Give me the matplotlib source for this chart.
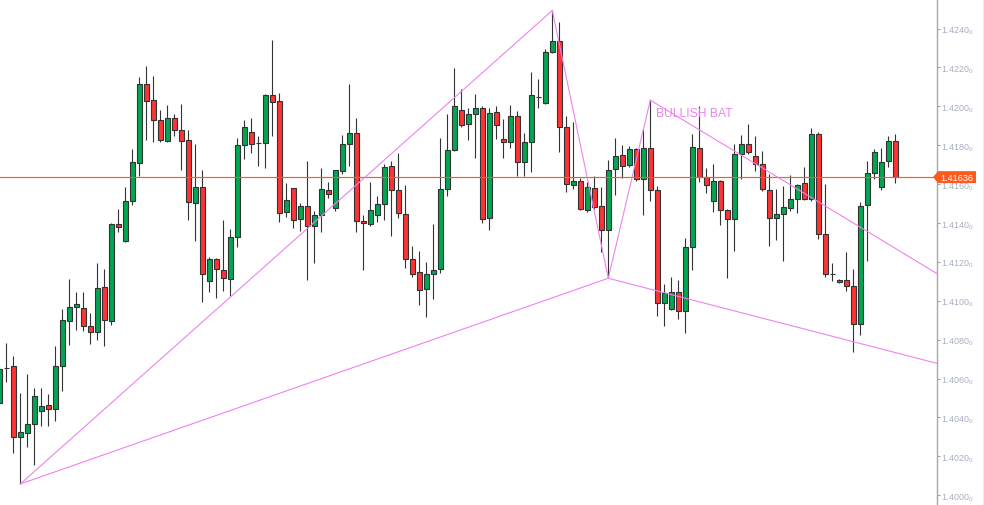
import numpy as np
import matplotlib
matplotlib.use('Agg')
import matplotlib.pyplot as plt
from matplotlib import transforms
from matplotlib.lines import Line2D
from matplotlib.patches import Polygon

plt.rcParams['font.family'] = ['Liberation Sans', 'DejaVu Sans']

# OHLC data, one candle per bar
opens = np.array([
    1.40473, 1.40653, 1.40664, 1.40298, 1.40322, 1.40365, 1.40432, 1.40463, 1.40442, 1.40664,
    1.40895, 1.40967, 1.40962, 1.40869, 1.40838, 1.41070, 1.40895, 1.41396, 1.41307, 1.41512,
    1.41708, 1.42114, 1.42032, 1.41929, 1.41821, 1.41939, 1.41878, 1.41826, 1.41502, 1.41584,
    1.41101, 1.41214, 1.41157, 1.41111, 1.41327, 1.41800, 1.41867, 1.41811, 1.41811, 1.42058,
    1.42027, 1.41456, 1.41579, 1.41420, 1.41487, 1.41384, 1.41440, 1.41569, 1.41476, 1.41667,
    1.41806, 1.41862, 1.41409, 1.41394, 1.41440, 1.41497, 1.41692, 1.41569, 1.41445, 1.41214,
    1.41147, 1.41060, 1.41137, 1.41163, 1.41574, 1.41775, 1.41980, 1.41908, 1.41960, 1.41991,
    1.41425, 1.41970, 1.41831, 1.41816, 1.41950, 1.41713, 1.41816, 1.42047, 1.42016, 1.42279,
    1.42335, 1.41893, 1.41595, 1.41615, 1.41466, 1.41579, 1.41487, 1.41363, 1.41677, 1.41749,
    1.41698, 1.41780, 1.41626, 1.41785, 1.41569, 1.40988, 1.40957, 1.41044, 1.40946, 1.41276,
    1.41785, 1.41636, 1.41512, 1.41615, 1.41466, 1.41420, 1.41754, 1.41806, 1.41744, 1.41703,
    1.41569, 1.41425, 1.41445, 1.41476, 1.41523, 1.41605, 1.41523, 1.41857, 1.41343, 1.41137,
    1.41096, 1.41106, 1.41075, 1.40880, 1.41492, 1.41656, 1.41584, 1.41718, 1.41821])

highs = np.array([
    1.40670, 1.40783, 1.40715, 1.40526, 1.40624, 1.40552, 1.40552, 1.40521, 1.40768, 1.40958,
    1.41113, 1.41044, 1.41044, 1.40938, 1.41193, 1.41164, 1.41401, 1.41473, 1.41587, 1.41781,
    1.42150, 1.42210, 1.42158, 1.41982, 1.42008, 1.41961, 1.42013, 1.41879, 1.41807, 1.41673,
    1.41224, 1.41218, 1.41418, 1.41370, 1.41836, 1.41929, 1.41941, 1.41847, 1.42062, 1.42342,
    1.42068, 1.41606, 1.41582, 1.41502, 1.41720, 1.41461, 1.41682, 1.41610, 1.41673, 1.41852,
    1.42114, 1.41939, 1.41440, 1.41610, 1.41538, 1.41703, 1.41718, 1.41759, 1.41595, 1.41281,
    1.41255, 1.41199, 1.41394, 1.41836, 1.41960, 1.42196, 1.42088, 1.41991, 1.42063, 1.42001,
    1.41991, 1.42001, 1.41934, 1.42006, 1.41975, 1.41862, 1.42176, 1.42140, 1.42296, 1.42493,
    1.42433, 1.41950, 1.41919, 1.41631, 1.41610, 1.41641, 1.41584, 1.41723, 1.41836, 1.41800,
    1.41795, 1.41785, 1.41883, 1.42032, 1.41590, 1.41085, 1.41121, 1.41106, 1.41322, 1.41857,
    1.42001, 1.41682, 1.41703, 1.41620, 1.41471, 1.41806, 1.41852, 1.41908, 1.41847, 1.41770,
    1.41651, 1.41574, 1.41590, 1.41649, 1.41603, 1.41687, 1.41888, 1.41867, 1.41600, 1.41193,
    1.41111, 1.41250, 1.41163, 1.41507, 1.41718, 1.41780, 1.41785, 1.41847, 1.41857])

lows = np.array([
    1.40444, 1.40581, 1.40218, 1.40058, 1.40247, 1.40157, 1.40358, 1.40358, 1.40384, 1.40538,
    1.40775, 1.40852, 1.40847, 1.40780, 1.40800, 1.40770, 1.40878, 1.41353, 1.41301, 1.41495,
    1.41644, 1.41829, 1.41816, 1.41819, 1.41815, 1.41847, 1.41675, 1.41418, 1.41305, 1.40993,
    1.41044, 1.41013, 1.41049, 1.41023, 1.41276, 1.41727, 1.41759, 1.41695, 1.41682, 1.41850,
    1.41404, 1.41430, 1.41373, 1.41361, 1.41109, 1.41193, 1.41353, 1.41528, 1.41461, 1.41651,
    1.41692, 1.41353, 1.41157, 1.41384, 1.41404, 1.41415, 1.41332, 1.41425, 1.41168, 1.41121,
    1.40977, 1.40916, 1.41008, 1.41141, 1.41538, 1.41770, 1.41893, 1.41826, 1.41734, 1.41399,
    1.41363, 1.41831, 1.41734, 1.41785, 1.41641, 1.41644, 1.41662, 1.41991, 1.42011, 1.42274,
    1.41764, 1.41559, 1.41574, 1.41466, 1.41456, 1.41473, 1.41250, 1.41116, 1.41543, 1.41631,
    1.41687, 1.41615, 1.41440, 1.41512, 1.40921, 1.40869, 1.40952, 1.40905, 1.40833, 1.41157,
    1.41610, 1.41553, 1.41456, 1.41389, 1.41116, 1.41258, 1.41626, 1.41754, 1.41667, 1.41564,
    1.41284, 1.41315, 1.41207, 1.41464, 1.41451, 1.41520, 1.41512, 1.41317, 1.41121, 1.41101,
    1.41094, 1.41049, 1.40736, 1.40823, 1.41204, 1.41626, 1.41569, 1.41687, 1.41605])

closes = np.array([
    1.40650, 1.40655, 1.40298, 1.40324, 1.40365, 1.40509, 1.40458, 1.40442, 1.40664, 1.40900,
    1.40967, 1.40983, 1.40869, 1.40838, 1.41065, 1.40900, 1.41394, 1.41379, 1.41512, 1.41713,
    1.42114, 1.42027, 1.41929, 1.41826, 1.41939, 1.41878, 1.41821, 1.41507, 1.41584, 1.41137,
    1.41214, 1.41163, 1.41116, 1.41327, 1.41800, 1.41893, 1.41806, 1.41812, 1.42058, 1.42022,
    1.41451, 1.41517, 1.41416, 1.41487, 1.41384, 1.41440, 1.41574, 1.41548, 1.41672, 1.41806,
    1.41862, 1.41409, 1.41399, 1.41466, 1.41497, 1.41687, 1.41569, 1.41451, 1.41214, 1.41137,
    1.41055, 1.41137, 1.41157, 1.41574, 1.41775, 1.42001, 1.41903, 1.41960, 1.41991, 1.41420,
    1.41965, 1.41903, 1.41816, 1.41950, 1.41713, 1.41816, 1.42058, 1.42048, 1.42279, 1.42335,
    1.41893, 1.41600, 1.41615, 1.41471, 1.41584, 1.41482, 1.41363, 1.41672, 1.41744, 1.41692,
    1.41780, 1.41626, 1.41785, 1.41569, 1.40988, 1.41039, 1.41044, 1.40946, 1.41276, 1.41790,
    1.41636, 1.41595, 1.41615, 1.41466, 1.41420, 1.41754, 1.41806, 1.41764, 1.41703, 1.41574,
    1.41425, 1.41445, 1.41482, 1.41523, 1.41595, 1.41523, 1.41857, 1.41343, 1.41137, 1.41138,
    1.41106, 1.41075, 1.40880, 1.41487, 1.41656, 1.41764, 1.41713, 1.41821, 1.41636])

last_price = 1.41636

# harmonic pattern points X, A, B, C, D (bar index, price)
pattern_bars = [3, 79, 87, 93, 171]
pattern_prices = [1.40058, 1.42493, 1.41116, 1.42032, 1.40333]
pattern_name = 'BULLISH BAT'

tick_values = [1.4000, 1.4020, 1.4040, 1.4060, 1.4080, 1.4100, 1.4120,
               1.4140, 1.4160, 1.4180, 1.4200, 1.4220, 1.4240]
tick_labels = [f'{v:.4f}' + r'$_{\mathregular{0}}$' for v in tick_values]

green = '#00a651'
red = '#ff3333'
outline = '#333333'
violet = '#ee82ee'
orange = '#ff5a1e'

fig = plt.figure(figsize=(9.84, 5.06), dpi=100)
ax = fig.add_axes([0, 0, 937.3 / 984, 1])
ax.set_xlim(0.1, 134.0)
ax.set_ylim(1.39950, 1.42552)

x = np.arange(len(opens))
up = closes >= opens
body_bottom = np.minimum(opens, closes)
body_height = np.maximum(np.abs(closes - opens), 0.000005)

ax.vlines(x, lows, highs, color=outline, lw=0.8, zorder=2)
ax.bar(x, body_height, width=0.64, bottom=body_bottom,
       color=np.where(up, green, red), edgecolor=outline, linewidth=0.8, zorder=3)

# current price line
ax.axhline(last_price, color=orange, lw=0.85, zorder=4)

# pattern triangles: XA, AB, XB and BC, CD, BD
px = dict(zip('XABCD', pattern_bars))
py = dict(zip('XABCD', pattern_prices))
for a, b in ['XA', 'AB', 'XB', 'BC', 'CD', 'BD']:
    ax.plot([px[a], px[b]], [py[a], py[b]], color=violet, lw=0.8, zorder=5)
ax.text(px['C'] + 0.75, 1.41951, pattern_name, color=violet, fontsize=8.7,
        ha='left', va='baseline', zorder=6)

# axis styling
for side in ['top', 'left', 'bottom']:
    ax.spines[side].set_visible(False)
ax.spines['right'].set_color('#a8a8a8')
ax.spines['right'].set_linewidth(1)
ax.set_xticks([])
ax.yaxis.tick_right()
ax.set_yticks(tick_values)
ax.set_yticklabels(tick_labels)
ax.tick_params(axis='y', direction='out', length=1.8, width=0.8, pad=1.2,
               color='#a0a0a0', labelcolor='#a7aec0', labelsize=6.4)

# price label box on the right axis
blend = transforms.blended_transform_factory(ax.transAxes, ax.transData)
h = 6 * (1.42552 - 1.39950) / 506
box = Polygon([(0.99541, last_price), (1.00075, last_price + h), (1.04129, last_price + h),
               (1.04129, last_price - h), (1.00075, last_price - h)],
              closed=True, transform=blend, facecolor=orange, edgecolor='none',
              clip_on=False, zorder=10)
ax.add_patch(box)
ax.text(1.0205, last_price, f'{last_price:.5f}', transform=blend, color='white',
        fontsize=6.6, ha='center', va='center', clip_on=False, zorder=11)

fig.add_artist(Line2D([983.5 / 984] * 2, [0, 1], transform=fig.transFigure,
                      color='#a0a0a0', lw=1))

fig.savefig('out.png', dpi=100)
